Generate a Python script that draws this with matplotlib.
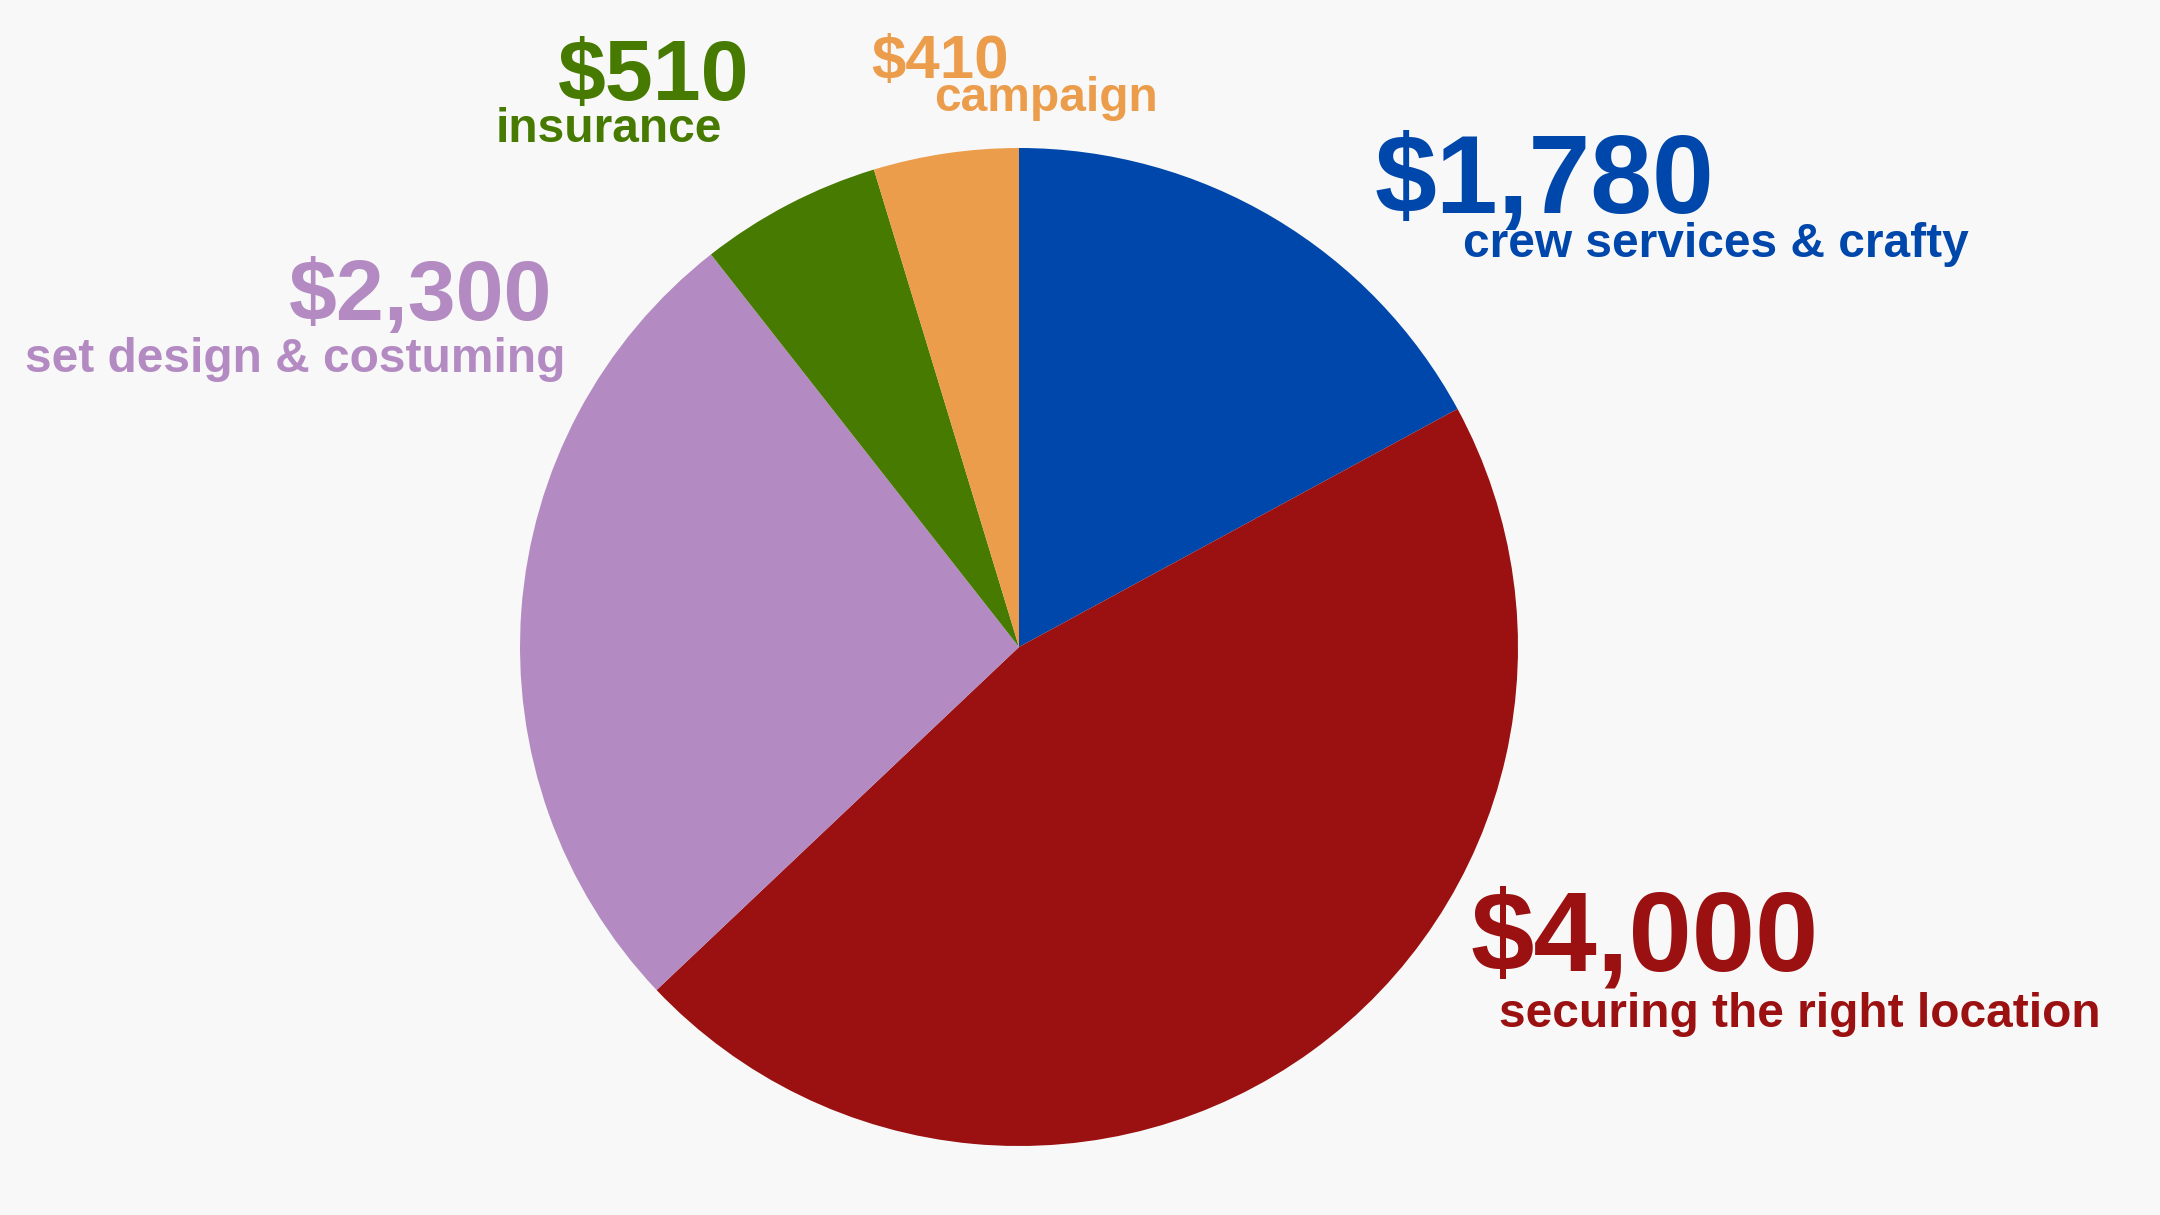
import matplotlib.pyplot as plt

# budget items, clockwise from 12 o'clock
items = ['crew services & crafty', 'securing the right location',
         'set design & costuming', 'insurance', 'campaign']
amounts = ['$1,780', '$4,000', '$2,300', '$510', '$410']
# wedge shares as drawn in the picture (percent of the circle)
shares = [17.1, 45.9, 26.5, 5.9, 4.7]
colors = ['#0047ab', '#9b1010', '#b38bc2', '#477a00', '#ec9d4c']

plt.rcParams['font.family'] = ['Liberation Sans', 'DejaVu Sans']

W, H = 2160, 1215
fig = plt.figure(figsize=(W / 100, H / 100), dpi=100, facecolor='#f8f8f8')
ax = fig.add_axes([0, 0, 1, 1])
ax.set_facecolor('#f8f8f8')

ax.pie(shares, colors=colors, startangle=90, counterclock=False,
       center=(1019, H - 647), radius=499,
       wedgeprops={'linewidth': 0, 'antialiased': True})
ax.set_xlim(0, W)
ax.set_ylim(0, H)
ax.set_aspect('equal')
ax.axis('off')

# label layout: (x of amount, baseline of amount, amount size,
#                x of name, baseline of name)
layout = [
    (1375, 213, 80, 1463, 257),
    (1471, 971, 82, 1499, 1027),
    (289, 320, 62, 25, 372),
    (558, 100, 62, 496, 142),
    (871, 78, 44.5, 934, 111),
]

for (ax_x, ax_y, size, nx, ny), amt, name, c in zip(layout, amounts, items, colors):
    ax.text(ax_x, H - ax_y, amt, color=c, fontsize=size, fontweight='bold',
            ha='left', va='baseline')
    ax.text(nx, H - ny, name, color=c, fontsize=34.5, fontweight='bold',
            ha='left', va='baseline')

fig.savefig('out.png', dpi=100, facecolor=fig.get_facecolor())
